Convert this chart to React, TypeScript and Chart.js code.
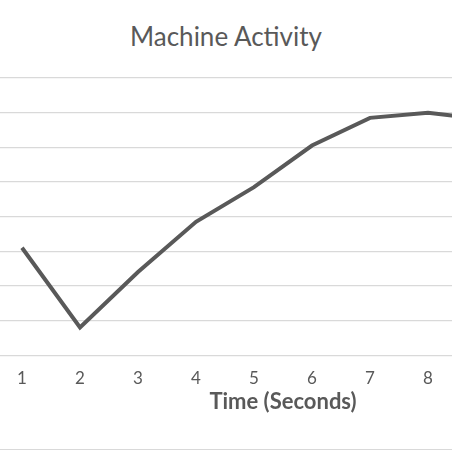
import React, { useEffect, useRef } from 'react';
import { Chart, registerables } from 'chart.js';

Chart.register(...registerables);

// data (y scale 0..8, one gridline per unit)
const seconds = ['1', '2', '3', '4', '5', '6', '7', '8', '9', '10'];
const activity: (number | null)[] = [3.1, 0.8, 2.4, 3.85, 4.85, 6.05, 6.85, 7.0, 6.8, null];
const yMin = 0;
const yMax = 8;
const yStep = 1;

const GRAY = '#595959';

const App: React.FC = () => {
  const canvasRef = useRef<HTMLCanvasElement | null>(null);

  useEffect(() => {
    if (!canvasRef.current) return;
    const chart = new Chart(canvasRef.current, {
      type: 'line',
      data: {
        labels: seconds,
        datasets: [
          {
            label: 'Machine Activity',
            data: activity,
            borderColor: '#595959',
            borderWidth: 4,
            pointRadius: 0,
            tension: 0,
            fill: false,
          },
        ],
      },
      options: {
        animation: false,
        responsive: true,
        maintainAspectRatio: false,
        layout: { padding: { top: 4, left: 0, right: 0, bottom: 0 } },
        plugins: {
          legend: { display: false },
          tooltip: { enabled: false },
        },
        scales: {
          x: {
            offset: true,
            grid: { display: false },
            border: { display: false },
            ticks: {
              color: GRAY,
              padding: 5,
              maxRotation: 0,
              font: { family: 'Lato', size: 17 },
            },
            title: {
              display: true,
              text: 'Time (Seconds)',
              color: GRAY,
              padding: { top: -5, bottom: 4 },
              font: { family: 'Lato', size: 22, weight: 'bold' },
            },
          },
          y: {
            min: yMin,
            max: yMax,
            grid: { color: '#d9d9d9', lineWidth: 1.3, drawTicks: false },
            border: { display: false },
            ticks: { display: false, stepSize: yStep },
          },
        },
      },
    });
    return () => chart.destroy();
  }, []);

  return (
    <div
      style={{
        position: 'fixed',
        left: 0,
        top: 0,
        width: 452,
        height: 452,
        overflow: 'hidden',
        background: '#ffffff',
      }}
    >
      <div
        style={{
          position: 'absolute',
          left: 0,
          top: 22,
          width: 452,
          textAlign: 'center',
          fontFamily: 'Lato',
          fontSize: 26,
          lineHeight: '28px',
          color: GRAY,
        }}
      >
        Machine Activity
      </div>
      <div style={{ position: 'absolute', left: -7, top: 74, width: 580, height: 345 }}>
        <canvas ref={canvasRef}></canvas>
      </div>
      <div
        style={{
          position: 'absolute',
          left: 0,
          top: 449,
          width: 452,
          height: 1,
          background: '#d9d9d9',
        }}
      ></div>
    </div>
  );
};

export default App;
